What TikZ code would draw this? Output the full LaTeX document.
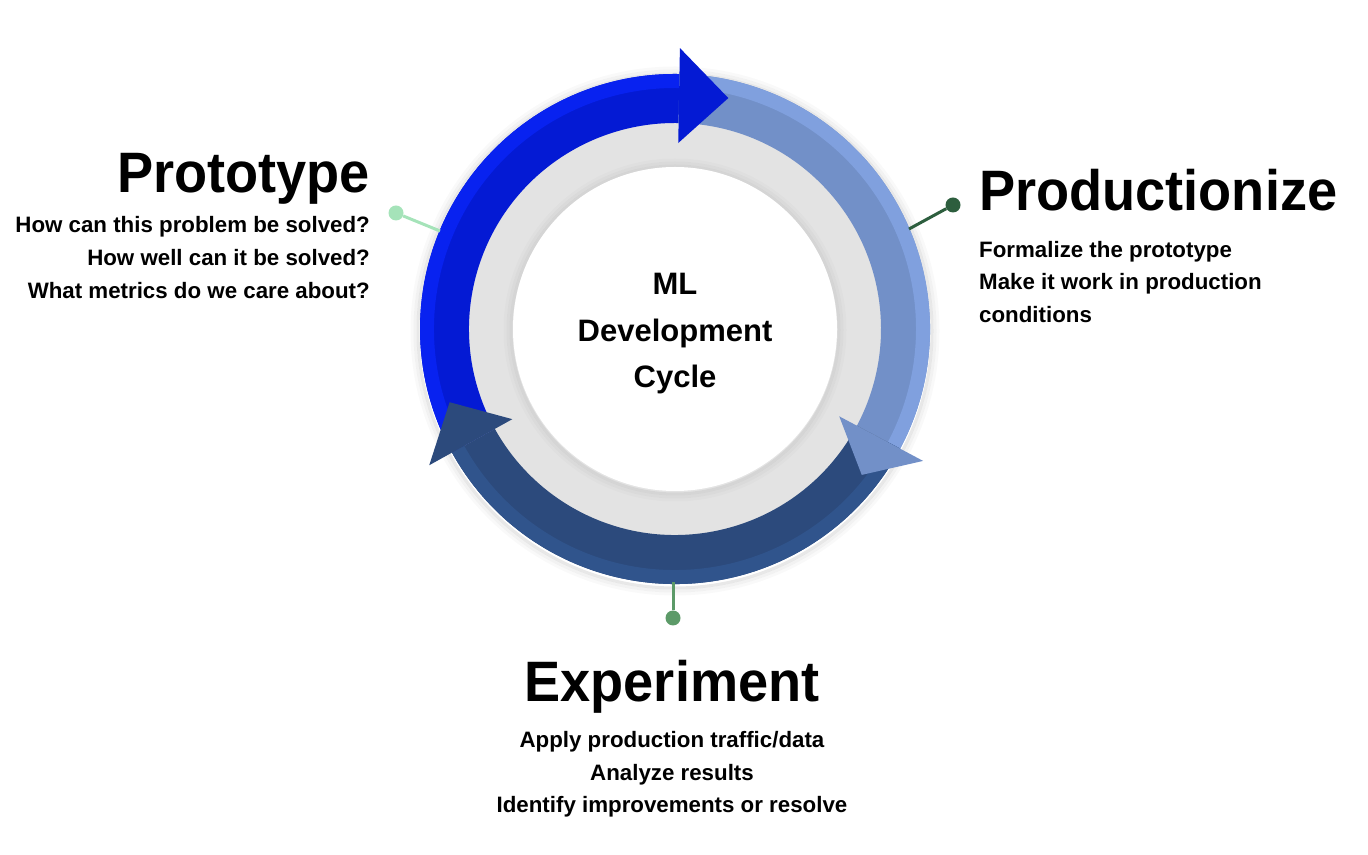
\documentclass[tikz,border=0pt]{standalone}
\usepackage{fontspec}
\setmainfont{Liberation Sans}
\newfontfamily\titlefont[FakeStretch=0.95]{Liberation Sans}
\definecolor{protoblue}{HTML}{041AD4}
\definecolor{protoedge}{HTML}{0822F0}
\definecolor{prodblue}{HTML}{7290C8}
\definecolor{prodedge}{HTML}{80A0DE}
\definecolor{expblue}{HTML}{2C4A7C}
\definecolor{expedge}{HTML}{30548C}
\definecolor{ringgray}{HTML}{E3E3E3}
\definecolor{protogreen}{HTML}{A5E3B9}
\definecolor{prodgreen}{HTML}{2D5E3E}
\definecolor{expgreen}{HTML}{5C9A68}
% band of the cycle: start angle, end angle, colour, outer colour
\newcommand{\cycleband}[4]{%
  \fill[#3] (#1:206) arc[start angle=#1, end angle=#2, radius=206]
    -- (#2:255) arc[start angle=#2, end angle=#1, radius=255] -- cycle;
  \fill[#4] (#1:241) arc[start angle=#1, end angle=#2, radius=241]
    -- (#2:255) arc[start angle=#2, end angle=#1, radius=255] -- cycle;}
% head of the cycle arrow: base angle, tip angle, colour
\newcommand{\cyclehead}[3]{%
  \fill[#3] (#1:186) -- (#2:237) -- (#1:281) -- cycle;}
\begin{document}
\begin{tikzpicture}[x=1pt,y=1pt,
  headtext/.style={font=\titlefont\bfseries\fontsize{57}{57}\selectfont, inner sep=0},
  bodytext/.style={font=\bfseries\fontsize{22.3}{27}\selectfont, inner sep=0},
  centertext/.style={font=\bfseries\fontsize{31}{31}\selectfont, inner sep=0, anchor=base},
  pindot/.style={circle, inner sep=0, minimum size=15},
  pinline/.style={line width=3}]
\useasboundingbox (0,0) rectangle (1368,854);

% ring
\begin{scope}[shift={(675,525)}]
  \foreach \r/\o in {257/0.09, 260/0.05, 263/0.025}
    \draw[black, opacity=\o, line width=3] (0,-2) circle (\r);
  \fill[ringgray] (0,0) circle (212);
  \foreach \r/\o in {164/0.06, 167/0.035, 170/0.015}
    \draw[black, opacity=\o, line width=3] (0,-1) circle (\r);
  \fill[white] (0,0) circle (162);
  \cycleband{209}{89}{protoblue}{protoedge}
  \cycleband{89}{-28}{prodblue}{prodedge}
  \cycleband{-28}{-151}{expblue}{expedge}
  \cyclehead{89}{77}{protoblue}
  \cyclehead{-28}{-38}{prodblue}
  \cyclehead{-151}{-162}{expblue}
\end{scope}

\node[centertext] (ml) at (675,559) {ML};
\node[centertext] (dev) at (675,512) {Development};
\node[centertext] (cyc) at (675,466) {Cycle};

% pins
\node[pindot, fill=protogreen] (protodot) at (396,641) {};
\coordinate (protoend) at (440,623);
\draw[pinline, protogreen] (protodot) -- (protoend);
\node[pindot, fill=prodgreen] (proddot) at (953,649) {};
\coordinate (prodend) at (909,625);
\draw[pinline, prodgreen] (proddot) -- (prodend);
\node[pindot, fill=expgreen] (expdot) at (673,236) {};
\coordinate (expend) at (673,272);
\draw[pinline, expgreen] (expdot) -- (expend);

% Prototype
\node[headtext, anchor=base east] (proto) at (370,661) {Prototype};
\node[bodytext, anchor=base east] (proto1) at (370,621) {How can this problem be solved?};
\node[bodytext, anchor=base east] (proto2) at (370,588) {How well can it be solved?};
\node[bodytext, anchor=base east] (proto3) at (370,555) {What metrics do we care about?};

% Productionize
\node[headtext, anchor=base west] (prod) at (979,643) {Productionize};
\node[bodytext, anchor=base west] (prod1) at (979,596) {Formalize the prototype};
\node[bodytext, anchor=base west] (prod2) at (979,564) {Make it work in production};
\node[bodytext, anchor=base west] (prod3) at (979,531) {conditions};

% Experiment
\node[headtext, anchor=base] (exp) at (672,152) {Experiment};
\node[bodytext, anchor=base] (exp1) at (672,106) {Apply production traffic/data};
\node[bodytext, anchor=base] (exp2) at (672,73) {Analyze results};
\node[bodytext, anchor=base] (exp3) at (672,41) {Identify improvements or resolve};
\end{tikzpicture}
\end{document}
